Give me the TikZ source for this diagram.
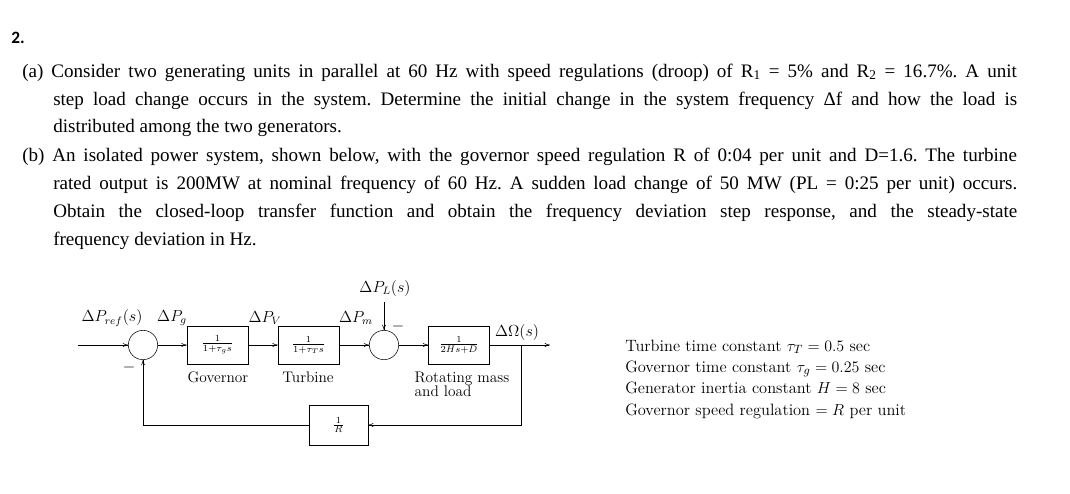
\documentclass[tikz,border=0pt]{standalone}
\usepackage{fontspec}
\newfontfamily\tfont{Liberation Serif}
\newfontfamily\hfont{Carlito}
\usetikzlibrary{arrows.meta}
\frenchspacing
\tikzset{
 blk/.style={draw,minimum width=45.75pt,minimum height=28.5pt,inner sep=0pt,font=\normalsize},
 sumc/.style={draw,circle,minimum size=22pt,inner sep=0pt},
 sig/.style={-{To[length=4pt,width=3pt]}},
 para/.style={anchor=base west,inner sep=0pt,font=\tfont\fontsize{14.3}{16}\selectfont},
 lab/.style={inner sep=0pt,font=\fontsize{11.5}{13}\selectfont},
 rt/.style={anchor=base west,inner sep=0pt,font=\fontsize{12.3}{14}\selectfont}
}
\begin{document}
\begin{tikzpicture}[x=0.75pt,y=-0.75pt]
\useasboundingbox (0,0) rectangle (1070,493);
\node[anchor=base west,inner sep=0pt,font=\hfont\bfseries\fontsize{13}{15}\selectfont] (n2) at (11,43) {2.};
\node[para] (a1) at (22,77) {\makebox[746pt][s]{(a) Consider two generating units in parallel at 60 Hz with speed regulations (droop) of R\textsubscript{1} = 5\% and R\textsubscript{2} = 16.7\%. A unit}};
\node[para] (a2) at (53,105) {\makebox[723pt][s]{step load change occurs in the system. Determine the initial change in the system frequency Δf and how the load is}};
\node[para] (a3) at (53,132) {distributed among the two generators.};
\node[para] (b1) at (22,161) {\makebox[746pt][s]{(b) An isolated power system, shown below, with the governor speed regulation R of 0:04 per unit and D=1.6. The turbine}};
\node[para] (b2) at (53,189) {\makebox[723pt][s]{rated output is 200MW at nominal frequency of 60 Hz. A sudden load change of 50 MW (PL = 0:25 per unit) occurs.}};
\node[para] (b3) at (53,217) {\makebox[723pt][s]{Obtain the closed-loop transfer function and obtain the frequency deviation step response, and the steady-state}};
\node[para] (b4) at (53,245) {frequency deviation in Hz.};

% diagram
\node[sumc] (s1) at (143,345) {};
\node[blk] (gov) at (217.5,345) {$\frac{1}{1+\tau_g s}$};
\node[blk] (tur) at (308.5,345) {$\frac{1}{1+\tau_T s}$};
\node[sumc] (s2) at (384,345) {};
\node[blk] (rot) at (459,345) {$\frac{1}{2Hs+D}$};
\node[blk,minimum width=44pt,minimum height=30pt] (fb) at (338.5,425) {$\frac{1}{R}$};
\coordinate (in) at (78,345);
\coordinate (out) at (550,345);
\coordinate (br) at (521,345);
\coordinate (pl) at (384,302);
\draw[sig] (in) -- (s1);
\draw[sig] (s1) -- (gov);
\draw[sig] (gov) -- (tur);
\draw[sig] (tur) -- (s2);
\draw[sig] (s2) -- (rot);
\draw[sig] (rot) -- (out);
\draw[sig] (pl) -- (s2);
\draw[sig] (br) |- (fb);
\draw[sig] (fb) -| (s1);
\node[lab] (lref) at (112,318) {$\Delta P_{ref}(s)$};
\node[lab] (lg) at (172,318) {$\Delta P_g$};
\node[lab] (lv) at (265,318) {$\Delta P_V$};
\node[lab] (lm) at (356,318) {$\Delta P_m$};
\node[lab] (lL) at (385,288) {$\Delta P_L(s)$};
\node[lab] (lO) at (517,332) {$\Delta\Omega(s)$};
\node[lab] (m1) at (129,367) {$-$};
\node[lab] (m2) at (398,326) {$-$};
\node[lab] (tg) at (218,377) {Governor};
\node[lab] (tt) at (308,377) {Turbine};
\node[lab,align=left] (tr) at (462,384) {Rotating mass\\[-2.5pt]and load};

\node[rt] (r1) at (625,351) {Turbine time constant $\tau_T = 0.5$ sec};
\node[rt] (r2) at (625,372) {Governor time constant $\tau_g = 0.25$ sec};
\node[rt] (r3) at (625,393) {Generator inertia constant $H = 8$ sec};
\node[rt] (r4) at (625,415) {Governor speed regulation $= R$ per unit};
\end{tikzpicture}
\end{document}
